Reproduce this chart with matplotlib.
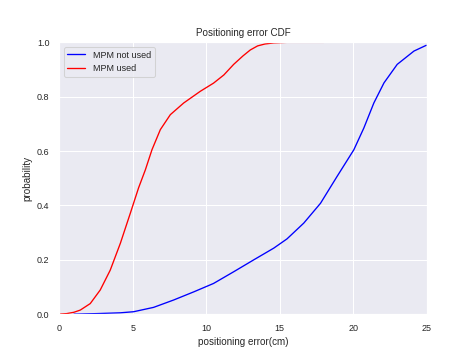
import numpy as np
import seaborn as sns
from matplotlib import pyplot as plt

# values
err_not_used = [1.0, 2.5, 4.16, 5.06, 6.42, 7.78, 9.15, 10.5, 11.87, 13.24, 14.6, 15.5,
                16.64, 17.78, 18.91, 20.05, 20.73, 21.41, 22.1, 23.0, 24.14, 24.97]
cdf_not_used = [0.0, 0.002, 0.005, 0.009, 0.025, 0.052, 0.082, 0.113, 0.156, 0.2, 0.243, 0.277,
                0.335, 0.408, 0.507, 0.605, 0.685, 0.777, 0.851, 0.919, 0.968, 0.989]

err_used = [0.0, 0.5, 1.0, 1.43, 2.11, 2.79, 3.47, 4.16, 4.84, 5.4, 5.86, 6.31, 6.88, 7.56,
            8.47, 9.6, 10.5, 11.2, 11.87, 12.5, 13.0, 13.5, 14.0, 14.6, 15.5, 18.0]
cdf_used = [0.0, 0.002, 0.007, 0.015, 0.039, 0.089, 0.162, 0.261, 0.372, 0.465, 0.531, 0.605,
            0.679, 0.734, 0.777, 0.82, 0.85, 0.88, 0.919, 0.95, 0.972, 0.987, 0.994, 0.998,
            1.0, 1.0]


def plot_cdf():
	sns.set()
	plt.rcParams['font.family'] = ['Liberation Sans', 'DejaVu Sans']
	fig, ax = plt.subplots(figsize=(474 / 74, 353 / 74), dpi=74)
	ax.plot(err_not_used, cdf_not_used, color='#0000ff', lw=1.3, label='MPM not used')
	ax.plot(err_used, cdf_used, color='#ff0000', lw=1.3, label='MPM used')
	ax.set_xlim(0, 25)
	ax.set_ylim(0, 1)
	ax.set_title('Positioning error CDF', fontsize=9.6)
	ax.set_xlabel('positioning error(cm)', fontsize=9.6)
	ax.set_ylabel('probability', fontsize=9.6)
	ax.tick_params(labelsize=8.8)
	ax.legend(loc='upper left', fontsize=8.8)
	fig.savefig('out.png', dpi=74)


if __name__ == '__main__':
	plot_cdf()
